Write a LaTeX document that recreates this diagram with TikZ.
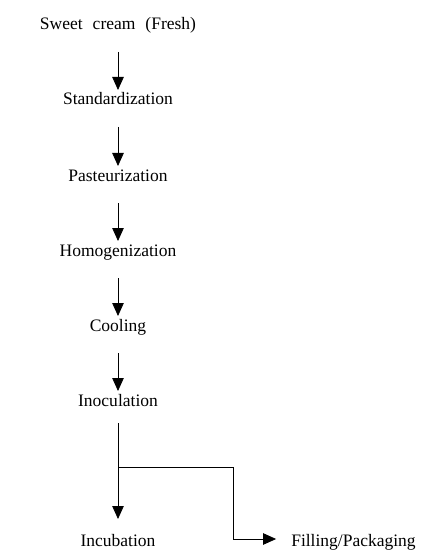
\documentclass[tikz,border=0pt]{standalone}
\usepackage{fontspec}
\setmainfont{Liberation Serif}
\usetikzlibrary{arrows.meta, positioning}
\tikzset{
    stage/.style={inner sep=0pt, anchor=base, font=\fontsize{17.5}{20}\selectfont},
    flow/.style={-{Triangle[length=13pt,width=11.5pt]}, line width=0.8pt},
}

\begin{document}
\begin{tikzpicture}[x=1pt, y=1pt]
    \useasboundingbox (0,0) rectangle (421,-556);
    % process stages
    \node[stage] (cream) at (118,-30) {Sweet\hspace{0.57em}cream\hspace{0.57em}(Fresh)};
    \node[stage] (stand) at (118,-105) {Standardization};
    \node[stage] (paste) at (118,-181) {Pasteurization};
    \node[stage] (homog) at (118,-256) {Homogenization};
    \node[stage] (cool) at (118,-331) {Cooling};
    \node[stage] (inoc) at (118,-406) {Inoculation};
    \node[stage] (incub) at (118,-546) {Incubation};
    \node[stage] (fill) at (353.5,-546) {Filling/Packaging};

    \foreach \a/\b in {cream/stand, stand/paste, paste/homog, homog/cool, cool/inoc}
        \draw[flow] ([yshift=-22pt]\a.base) -- ([yshift=15pt]\b.base);

    % split after inoculation
    \coordinate (split) at ([yshift=-61pt]inoc.base);
    \coordinate (elbow) at (233,-539);
    \draw[flow] ([yshift=-17pt]inoc.base) -- ([yshift=27pt]incub.base);
    \draw[flow, shorten >=15pt] (split) -| (elbow) -- (elbow -| fill.west);
\end{tikzpicture}
\end{document}
